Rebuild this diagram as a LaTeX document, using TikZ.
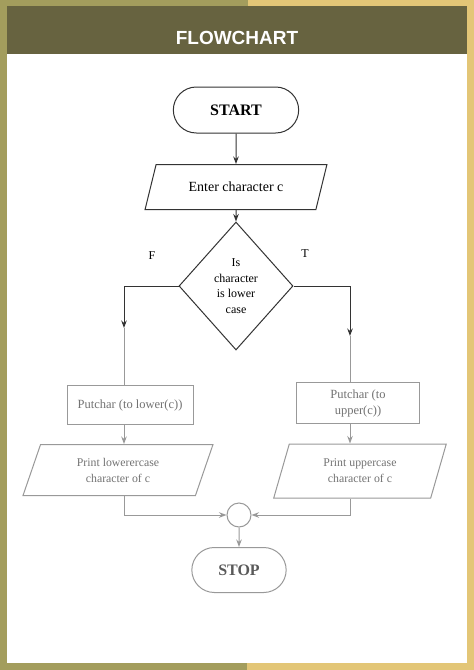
\documentclass[tikz,border=0pt]{standalone}
\usepackage{fontspec}
\setmainfont{Liberation Serif}
\newfontfamily\titlefont{Liberation Sans}
\usetikzlibrary{shapes.geometric,shapes.misc,arrows.meta}

\definecolor{frameolive}{HTML}{A39D5D}
\definecolor{frameyellow}{HTML}{E3C677}
\definecolor{headolive}{HTML}{676340}

\tikzset{
  terminal/.style={rounded rectangle, draw, font=\bfseries\fontsize{16}{18}\selectfont},
  io/.style={trapezium, draw, trapezium stretches=true, align=center},
  decision/.style={diamond, draw, inner sep=0pt, align=center,
    font=\fontsize{12}{15.5}\selectfont},
  procbox/.style={rectangle, draw, align=center, font=\fontsize{12.5}{16}\selectfont},
  faded/.style={draw=black!40, text=black!55},
}

\begin{document}
\begin{tikzpicture}[x=1pt, y=-1pt, >={Stealth[length=7.5pt, width=5.5pt]}, line width=1pt]
    \useasboundingbox (0,0) rectangle (474,670);

    % frame and title band
    \fill[frameolive] (0,0) rectangle (474,670);
    \fill[frameyellow] (248,0) rectangle (474,6);
    \fill[frameyellow] (467,0) rectangle (474,670);
    \fill[frameyellow] (247,663) rectangle (474,670);
    \fill[white] (7,6) rectangle (467,663);
    \fill[headolive] (7,6) rectangle (467,54);
    \node[text=white, font=\titlefont\bfseries\fontsize{19}{22}\selectfont] (title) at (237,38) {FLOWCHART};

    \node[terminal, draw=black!80, minimum width=132, minimum height=46] (start) at (236,110) {START};
    \node[io, draw=black!80, font=\fontsize{14}{16}\selectfont, minimum width=182, minimum height=45,
      trapezium left angle=67, trapezium right angle=113] (enter) at (236,187) {Enter character c};
    \node[decision, draw=black!80, minimum width=114, minimum height=128] (decide) at (236,286) {Is\\character\\is lower\\case};

    \node[font=\fontsize{12}{14}\selectfont] (flab) at (152,256) {F};
    \node[font=\fontsize{12}{14}\selectfont] (tlab) at (305,254) {T};

    \coordinate (fdown) at (124,328);
    \coordinate (tdown) at (350,336);

    \draw[->, black!80] (start) -- (enter);
    \draw[->, black!80] (enter) -- (decide);
    \draw[->, black!80] (decide.west) -| (fdown);
    \draw[->, black!80] (decide.east) -| (tdown);

    % washed out lower half
    \node[procbox, faded, minimum width=126, minimum height=39] (lowbox) at (130,405) {Putchar (to lower(c))};
    \node[procbox, faded, minimum width=123, minimum height=41] (upbox) at (358,403) {Putchar (to\\upper(c))};

    \node[io, faded, font=\fontsize{11.8}{16}\selectfont, minimum width=190, minimum height=51,
      trapezium left angle=72, trapezium right angle=108] (lowprint) at (118,470) {Print lowerercase\\character of c};
    \node[io, faded, font=\fontsize{11.8}{16}\selectfont, minimum width=174, minimum height=54,
      trapezium left angle=74, trapezium right angle=106] (upprint) at (360,471) {Print uppercase\\character of c};

    \node[circle, faded, draw, minimum size=24, inner sep=0pt] (join) at (239,515) {};
    \node[terminal, faded, text=black!65, minimum width=101, minimum height=45] (stop) at (239,570) {STOP};

    \draw[faded] (fdown) -- (fdown |- lowbox.north);
    \draw[faded] (tdown) -- (tdown |- upbox.north);
    \draw[faded, ->] (lowbox.south -| fdown) -- (lowprint.north -| fdown);
    \draw[faded, ->] (upbox.south -| tdown) -- (upprint.north -| tdown);
    \draw[faded, ->] (lowprint.south -| fdown) |- (join.west);
    \draw[faded, ->] (upprint.south -| tdown) |- (join.east);
    \draw[faded, ->] (join) -- (stop);
\end{tikzpicture}
\end{document}
